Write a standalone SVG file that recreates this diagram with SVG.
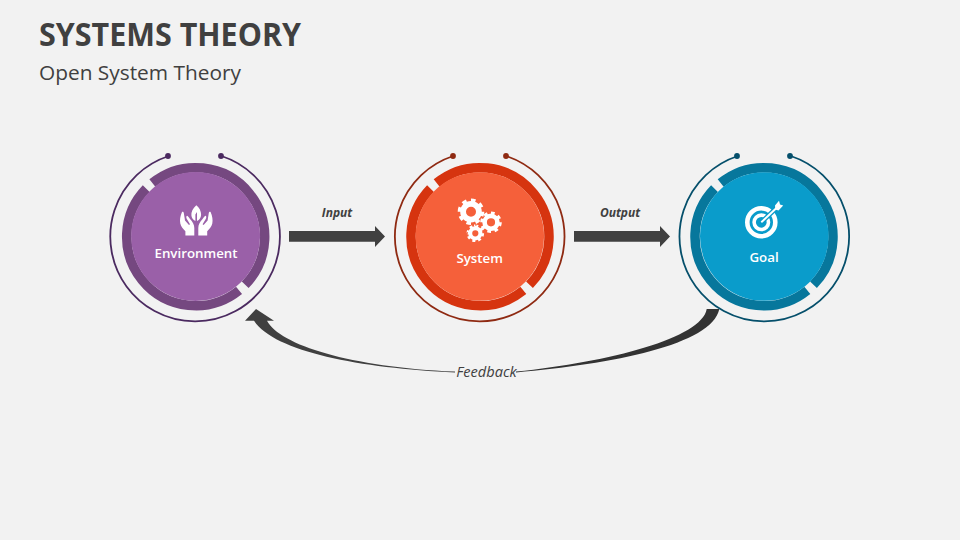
<svg xmlns="http://www.w3.org/2000/svg" width="960" height="540" viewBox="0 0 960 540">
<style>
text{font-family:"Open Sans","Liberation Sans",sans-serif}
.title{font-size:33px;font-weight:700;fill:#404040}
.sub{font-size:20.5px;fill:#404040}
.lab{font-size:13.3px;font-weight:600;fill:#fff;text-anchor:middle}
.conn{font-size:12px;font-weight:700;font-style:italic;fill:#404040;text-anchor:middle}
.fb{font-size:14.6px;font-style:italic;fill:#404040;text-anchor:middle}
.outer{fill:none;stroke-width:1.8}
.ring{fill:none;stroke-width:9.5;stroke-dasharray:173 7 173 7}
.ar{fill:#404040}
.w{fill:#fff}
.gear{fill:none;stroke:#fff}
</style>
<rect width="960" height="540" fill="#f2f2f2"/>
<text class="title" x="39" y="46" textLength="262" lengthAdjust="spacingAndGlyphs">SYSTEMS THEORY</text>
<text class="sub" x="39" y="80" textLength="202" lengthAdjust="spacingAndGlyphs">Open System Theory</text>

<g id="connectors">
<path id="input" class="ar" d="M289 231H375V226L385 236.4L375 247V241.7H289Z"/>
<path id="output" class="ar" d="M574 231H660V226L670 236.4L660 247V241.7H574Z"/>
<path id="feedback-right" fill="#333" d="M706.7 309C702 338 610 362 516 371.6V372.4C612 364 712 345 719.3 309Z"/>
<path id="feedback-left" class="ar" d="M455 372.4V371.6C350 367 280 345 267 320.7H274L256 309L245 320.7H254C275 352 360 368 455 372.4Z"/>
<text class="conn" x="337" y="217">Input</text>
<text class="conn" x="620" y="217">Output</text>
<text class="fb" x="486.5" y="377">Feedback</text>
</g>

<g id="environment">
<path class="outer" stroke="#4b2a60" d="M221.5 156A84.8 84.8 0 1 1 168.7 156"/>
<circle cx="168" cy="156" r="2.9" fill="#4b2a60"/><circle cx="221" cy="156" r="2.9" fill="#4b2a60"/>
<circle class="ring" stroke="#754880" cx="195.7" cy="236.7" r="69" pathLength="360" transform="rotate(51.1 195.7 236.7)"/>
<circle cx="195.6" cy="236.5" r="64.5" fill="#9a60a8"/>
<g id="icon-hands">
<path class="w" d="M196.3 205.2C192.8 208.3 191 212 191.4 215.5C191.7 218 193 220 195.4 221V214.5L197 212V221C199.6 220 201 217.8 201.1 214.8C201.2 211.2 199.4 207.6 196.3 205.2Z"/>
<path class="w" d="M182 212C180.2 216 179.6 220 180.3 223.5C181 226.5 183.2 229 185.4 231.2V235.6H194.3V228C194.3 224.5 192.5 221.5 190 219C188.8 217.2 187.6 215.6 187 215.7C186 216.2 186.2 217.8 187 219.2L190 224.2L189 225L185 220.5L183.8 213C183.6 211.6 182.6 211.3 182 212Z"/>
<path class="w" transform="matrix(-1 0 0 1 392.6 0)" d="M182 212C180.2 216 179.6 220 180.3 223.5C181 226.5 183.2 229 185.4 231.2V235.6H194.3V228C194.3 224.5 192.5 221.5 190 219C188.8 217.2 187.6 215.6 187 215.7C186 216.2 186.2 217.8 187 219.2L190 224.2L189 225L185 220.5L183.8 213C183.6 211.6 182.6 211.3 182 212Z"/>
</g>
<text class="lab" x="196" y="258">Environment</text>
</g>

<g id="system">
<path class="outer" stroke="#8f2a12" d="M506.2 156A84.8 84.8 0 1 1 453.2 156"/>
<circle cx="453" cy="156" r="2.9" fill="#8f2a12"/><circle cx="506" cy="156" r="2.9" fill="#8f2a12"/>
<circle class="ring" stroke="#d6340f" cx="480" cy="236.7" r="69" pathLength="360" transform="rotate(51.1 480 236.7)"/>
<circle cx="479.8" cy="236.5" r="64.3" fill="#f5603a"/>
<g id="icon-gears">
<circle class="gear" cx="471" cy="211.7" r="7.9" stroke-width="5.8"/>
<circle class="gear" cx="471" cy="211.7" r="11.6" stroke-width="3.4" pathLength="16" stroke-dasharray="1 1"/>
<circle class="gear" cx="491" cy="222.3" r="6.4" stroke-width="4.6"/>
<circle class="gear" cx="491" cy="222.3" r="9.3" stroke-width="3" pathLength="16" stroke-dasharray="1 1"/>
<circle class="gear" cx="475.3" cy="233.3" r="5.1" stroke-width="4"/>
<circle class="gear" cx="475.3" cy="233.3" r="7.5" stroke-width="2.6" pathLength="16" stroke-dasharray="1 1"/>
</g>
<text class="lab" x="479.7" y="263">System</text>
</g>

<g id="goal">
<path class="outer" stroke="#054f6b" d="M790.8 156A84.8 84.8 0 1 1 737.8 156"/>
<circle cx="737" cy="156" r="2.9" fill="#054f6b"/><circle cx="790" cy="156" r="2.9" fill="#054f6b"/>
<circle class="ring" stroke="#07779c" cx="764" cy="236.7" r="69" pathLength="360" transform="rotate(51.1 764 236.7)"/>
<circle cx="764.3" cy="236.5" r="64.3" fill="#0a9ccb"/>
<g id="icon-target">
<circle cx="761.3" cy="222.3" r="14" fill="none" stroke="#fff" stroke-width="4.6"/>
<circle cx="761.3" cy="222.3" r="7.2" fill="none" stroke="#fff" stroke-width="3.6"/>
<path d="M761.3 222.3L778 206.5" stroke="#0a9ccb" stroke-width="4.6" fill="none"/>
<path d="M761.3 222.3L777 207.5" stroke="#fff" stroke-width="1.9" fill="none"/>
<path class="w" d="M775 205.5L779 200.7L780 204.5L783.2 205.5L778.5 210.5L775.3 209.5Z"/>
</g>
<text class="lab" x="764" y="262">Goal</text>
</g>
</svg>
